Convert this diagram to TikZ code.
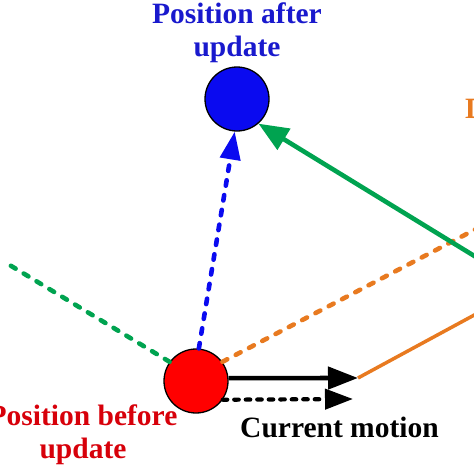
\documentclass[tikz,border=0pt]{standalone}
\usepackage{fontspec}
\setmainfont{Liberation Serif}
\usetikzlibrary{arrows.meta}
\definecolor{mygreen}{RGB}{0,163,80}
\definecolor{myorange}{RGB}{232,122,32}
\definecolor{myblue}{RGB}{10,10,240}
\definecolor{txtblue}{RGB}{25,25,205}
\definecolor{txtred}{RGB}{215,0,10}
\tikzset{
  dot/.style={circle,draw=black,line width=1.3pt,minimum size=64pt,inner sep=0pt},
  lbl/.style={font=\fontsize{29.5}{33}\selectfont\bfseries,align=center,inner sep=0pt},
  dsh/.style={line width=4.6pt,line cap=round,dash pattern=on 5.5pt off 9.5pt},
}
\begin{document}
\begin{tikzpicture}[x=1pt,y=-1pt]
\useasboundingbox (0,0) rectangle (474,474);
\clip (0,0) rectangle (474,474);
% nodes
\node[dot,fill=myblue] (blue) at (237,99) {};
\node[dot,fill=red] (red) at (196,381) {};
\node[lbl,text=txtblue,anchor=base] (tafter) at (237,56) {Position after\\update};
\node[lbl,text=txtred,anchor=base] (tbefore) at (83,458) {Position before\\update};
\node[lbl,text=black,anchor=base west] (tmotion) at (240,437) {Current motion};
\node[lbl,text=myorange,anchor=base west] (tright) at (465,118) {D};
% free ends
\coordinate (gstart) at (476,257);
\coordinate (gdashend) at (3,261);
\coordinate (odashend) at (478,228);
\coordinate (oend) at (478,313);
\coordinate (tipA) at (358,378);
\coordinate (tipB) at (353,399);
% connectors
\draw[dsh,mygreen] (red.144) -- (gdashend);
\draw[dsh,myorange] (red.36) -- (odashend);
\draw[myorange,line width=3.5pt] (tipA) -- (oend);
\draw[mygreen,line width=4.6pt,-{Triangle[length=30pt,width=24pt]}] (gstart) -- (blue.311);
\draw[dsh,myblue,-{Triangle[length=28pt,width=20pt]}] (red.85) -- (blue.266);
\draw[black,line width=4.6pt,-{Triangle[length=30pt,width=22pt]}] (red.5) -- (tipA);
\draw[black,line width=4.2pt,line cap=round,dash pattern=on 4.5pt off 7pt,-{Triangle[length=28pt,width=20pt]}] (red.-35) -- (tipB);
\end{tikzpicture}
\end{document}
